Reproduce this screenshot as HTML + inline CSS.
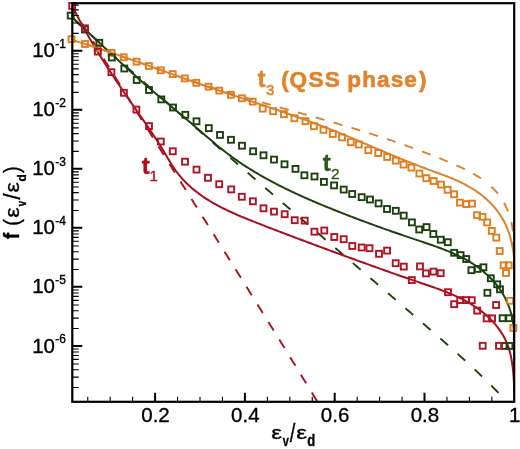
<!DOCTYPE html>
<html><head><meta charset="utf-8"><style>
html,body{margin:0;padding:0;background:#fff;width:520px;height:449px;overflow:hidden}
svg{display:block;filter:blur(0.35px)}
</style></head><body>
<svg width="520" height="449" viewBox="0 0 520 449">
<rect width="520" height="449" fill="#fff"/>
<defs><clipPath id="c"><rect x="72.3" y="3.2" width="441.9" height="398.6"/></clipPath></defs>
<g clip-path="url(#c)"><path d="M70.92,5.58 L71.72,6.88 L72.53,8.19 L73.33,9.50 L74.13,10.80 L74.93,12.11 L75.73,13.42 L76.54,14.72 L77.34,16.03 L78.14,17.33 L78.94,18.64 L79.75,19.94 L80.55,21.25 L81.35,22.55 L82.16,23.86 L82.96,25.16 L83.77,26.47 L84.57,27.77 L85.37,29.08 L86.18,30.38 L86.98,31.68 L87.79,32.99 L88.59,34.29 L89.40,35.60 L90.20,36.90 L91.01,38.20 L91.81,39.51 L92.62,40.81 L93.43,42.11 L94.23,43.42 L95.04,44.72 L95.84,46.02 L96.65,47.33 L97.46,48.63 L98.26,49.93 L99.07,51.23 L99.88,52.54 L100.69,53.84 L101.49,55.14 L102.30,56.44 L103.11,57.74 L103.92,59.05 L104.72,60.35 L105.53,61.65 L106.34,62.95 L107.15,64.25 L107.96,65.55 L108.76,66.85 L109.57,68.16 L110.38,69.46 L111.19,70.76 L112.00,72.06 L112.81,73.36 L113.62,74.66 L114.43,75.96 L115.24,77.26 L116.05,78.56 L116.86,79.86 L117.67,81.16 L118.48,82.46 L119.29,83.76 L120.10,85.06 L120.91,86.36 L121.72,87.66 L122.53,88.96 L123.34,90.26 L124.15,91.56 L124.96,92.86 L125.77,94.16 L126.58,95.46 L127.39,96.76 L128.20,98.06 L129.01,99.36 L129.82,100.66 L130.64,101.95 L131.45,103.25 L132.26,104.55 L133.07,105.85 L133.88,107.15 L134.69,108.45 L135.51,109.75 L136.32,111.05 L137.13,112.34 L137.94,113.64 L138.75,114.94 L139.57,116.24 L140.38,117.54 L141.19,118.84 L142.00,120.13 L142.82,121.43 L143.63,122.73 L144.44,124.03 L145.26,125.33 L146.07,126.62 L146.88,127.92 L147.69,129.22 L148.51,130.52 L149.32,131.81 L150.13,133.11 L150.95,134.41 L151.76,135.71 L152.57,137.00 L153.39,138.30 L154.20,139.60 L155.01,140.90 L155.83,142.19 L156.64,143.49 L157.45,144.79 L158.27,146.09 L159.08,147.38 L159.90,148.68 L160.71,149.98 L161.52,151.27 L162.34,152.57 L163.15,153.87 L163.96,155.17 L164.78,156.46 L165.59,157.76 L166.41,159.06 L167.22,160.35 L168.03,161.65 L168.85,162.95 L169.66,164.24 L170.48,165.54 L171.29,166.84 L172.11,168.14 L172.92,169.43 L173.73,170.73 L174.55,172.03 L175.36,173.32 L176.18,174.62 L176.99,175.92 L177.81,177.21 L178.62,178.51 L179.43,179.81 L180.25,181.10 L181.06,182.40 L181.88,183.70 L182.69,184.99 L183.51,186.29 L184.32,187.59 L185.13,188.88 L185.95,190.18 L186.76,191.48 L187.58,192.77 L188.39,194.07 L189.21,195.37 L190.02,196.66 L190.83,197.96 L191.65,199.26 L192.46,200.55 L193.28,201.85 L194.09,203.15 L194.91,204.44 L195.72,205.74 L196.53,207.04 L197.35,208.33 L198.16,209.63 L198.98,210.93 L199.79,212.22 L200.61,213.52 L201.42,214.82 L202.23,216.11 L203.05,217.41 L203.86,218.71 L204.68,220.00 L205.49,221.30 L206.30,222.60 L207.12,223.89 L207.93,225.19 L208.75,226.49 L209.56,227.79 L210.37,229.08 L211.19,230.38 L212.00,231.68 L212.81,232.97 L213.63,234.27 L214.44,235.57 L215.25,236.87 L216.07,238.16 L216.88,239.46 L217.69,240.76 L218.51,242.05 L219.32,243.35 L220.13,244.65 L220.95,245.95 L221.76,247.24 L222.57,248.54 L223.39,249.84 L224.20,251.14 L225.01,252.43 L225.82,253.73 L226.64,255.03 L227.45,256.33 L228.26,257.63 L229.07,258.92 L229.89,260.22 L230.70,261.52 L231.51,262.82 L232.32,264.12 L233.14,265.41 L233.95,266.71 L234.76,268.01 L235.57,269.31 L236.38,270.61 L237.19,271.91 L238.01,273.21 L238.82,274.50 L239.63,275.80 L240.44,277.10 L241.25,278.40 L242.06,279.70 L242.87,281.00 L243.68,282.30 L244.49,283.60 L245.31,284.90 L246.12,286.19 L246.93,287.49 L247.74,288.79 L248.55,290.09 L249.36,291.39 L250.17,292.69 L250.98,293.99 L251.79,295.29 L252.60,296.59 L253.41,297.89 L254.22,299.19 L255.03,300.49 L255.84,301.79 L256.64,303.09 L257.45,304.39 L258.26,305.69 L259.07,306.99 L259.88,308.29 L260.69,309.59 L261.50,310.90 L262.31,312.20 L263.11,313.50 L263.92,314.80 L264.73,316.10 L265.54,317.40 L266.35,318.70 L267.15,320.00 L267.96,321.31 L268.77,322.61 L269.57,323.91 L270.38,325.21 L271.19,326.51 L272.00,327.81 L272.80,329.12 L273.61,330.42 L274.41,331.72 L275.22,333.02 L276.03,334.33 L276.83,335.63 L277.64,336.93 L278.44,338.23 L279.25,339.54 L280.05,340.84 L280.86,342.14 L281.66,343.45 L282.47,344.75 L283.27,346.05 L284.08,347.36 L284.88,348.66 L285.69,349.97 L286.49,351.27 L287.29,352.57 L288.10,353.88 L288.90,355.18 L289.70,356.49 L290.51,357.79 L291.31,359.10 L292.11,360.40 L292.92,361.71 L293.72,363.01 L294.52,364.32 L295.32,365.62 L296.12,366.93 L296.93,368.23 L297.73,369.54 L298.53,370.85 L299.33,372.15 L300.13,373.46 L300.93,374.77 L301.73,376.07 L302.53,377.38 L303.33,378.69 L304.13,379.99 L304.93,381.30 L305.73,382.61 L306.53,383.91 L307.33,385.22 L308.13,386.53 L308.93,387.84 L309.73,389.15 L310.52,390.45 L311.32,391.76 L312.12,393.07 L312.92,394.38 L313.72,395.69 L314.51,397.00 L315.31,398.31 L316.11,399.61 L316.90,400.92 L317.70,402.23 L318.50,403.54 L319.29,404.85 L319.78,405.66" fill="none" stroke="#aa0f1e" stroke-width="1.9" stroke-linejoin="round" stroke-dasharray="10.00 10.70" stroke-dashoffset="20.34"/><path d="M67.70,13.82 L68.91,14.91 L70.11,16.01 L71.31,17.11 L72.52,18.20 L73.72,19.30 L74.93,20.39 L76.13,21.49 L77.33,22.58 L78.54,23.67 L79.75,24.77 L80.95,25.86 L82.16,26.95 L83.36,28.04 L84.57,29.14 L85.78,30.23 L86.98,31.32 L88.19,32.41 L89.40,33.50 L90.61,34.59 L91.82,35.68 L93.02,36.77 L94.23,37.86 L95.44,38.95 L96.65,40.04 L97.86,41.13 L99.07,42.22 L100.28,43.31 L101.49,44.39 L102.70,45.48 L103.91,46.57 L105.13,47.65 L106.34,48.74 L107.55,49.83 L108.76,50.91 L109.97,52.00 L111.19,53.09 L112.40,54.17 L113.61,55.26 L114.83,56.34 L116.04,57.43 L117.25,58.51 L118.47,59.59 L119.68,60.68 L120.90,61.76 L122.11,62.84 L123.33,63.93 L124.54,65.01 L125.76,66.09 L126.97,67.17 L128.19,68.26 L129.40,69.34 L130.62,70.42 L131.84,71.50 L133.05,72.58 L134.27,73.66 L135.49,74.74 L136.71,75.82 L137.92,76.90 L139.14,77.98 L140.36,79.06 L141.58,80.14 L142.80,81.22 L144.02,82.30 L145.24,83.37 L146.46,84.45 L147.68,85.53 L148.90,86.61 L150.11,87.69 L151.34,88.76 L152.56,89.84 L153.78,90.92 L155.00,91.99 L156.22,93.07 L157.44,94.14 L158.66,95.22 L159.88,96.30 L161.10,97.37 L162.33,98.45 L163.55,99.52 L164.77,100.60 L165.99,101.67 L167.22,102.74 L168.44,103.82 L169.66,104.89 L170.89,105.97 L172.11,107.04 L173.33,108.11 L174.56,109.19 L175.78,110.26 L177.00,111.33 L178.23,112.40 L179.45,113.48 L180.68,114.55 L181.90,115.62 L183.13,116.69 L184.35,117.76 L185.58,118.83 L186.80,119.90 L188.03,120.98 L189.26,122.05 L190.48,123.12 L191.71,124.19 L192.93,125.26 L194.16,126.33 L195.39,127.40 L196.61,128.47 L197.84,129.54 L199.07,130.60 L200.30,131.67 L201.52,132.74 L202.75,133.81 L203.98,134.88 L205.21,135.95 L206.43,137.02 L207.66,138.08 L208.89,139.15 L210.12,140.22 L211.35,141.29 L212.58,142.35 L213.81,143.42 L215.03,144.49 L216.26,145.56 L217.49,146.62 L218.72,147.69 L219.95,148.76 L221.18,149.82 L222.41,150.89 L223.64,151.95 L224.87,153.02 L226.10,154.08 L227.33,155.15 L228.56,156.22 L229.79,157.28 L231.02,158.35 L232.25,159.41 L233.48,160.48 L234.71,161.54 L235.94,162.60 L237.18,163.67 L238.41,164.73 L239.64,165.80 L240.87,166.86 L242.10,167.93 L243.33,168.99 L244.56,170.05 L245.80,171.12 L247.03,172.18 L248.26,173.24 L249.49,174.31 L250.72,175.37 L251.96,176.43 L253.19,177.49 L254.42,178.56 L255.65,179.62 L256.89,180.68 L258.12,181.74 L259.35,182.81 L260.58,183.87 L261.82,184.93 L263.05,185.99 L264.28,187.05 L265.52,188.12 L266.75,189.18 L267.98,190.24 L269.22,191.30 L270.45,192.36 L271.68,193.42 L272.92,194.48 L274.15,195.55 L275.38,196.61 L276.62,197.67 L277.85,198.73 L279.08,199.79 L280.32,200.85 L281.55,201.91 L282.79,202.97 L284.02,204.03 L285.25,205.09 L286.49,206.15 L287.72,207.21 L288.96,208.27 L290.19,209.33 L291.42,210.39 L292.66,211.45 L293.89,212.51 L295.13,213.57 L296.36,214.63 L297.60,215.69 L298.83,216.75 L300.07,217.81 L301.30,218.87 L302.53,219.93 L303.77,220.99 L305.00,222.04 L306.24,223.10 L307.47,224.16 L308.71,225.22 L309.94,226.28 L311.18,227.34 L312.41,228.40 L313.65,229.46 L314.88,230.52 L316.12,231.58 L317.35,232.63 L318.59,233.69 L319.82,234.75 L321.06,235.81 L322.29,236.87 L323.53,237.93 L324.76,238.99 L326.00,240.04 L327.23,241.10 L328.46,242.16 L329.70,243.22 L330.93,244.28 L332.17,245.34 L333.40,246.39 L334.64,247.45 L335.87,248.51 L337.11,249.57 L338.34,250.63 L339.58,251.68 L340.81,252.74 L342.05,253.80 L343.28,254.86 L344.52,255.92 L345.75,256.98 L346.99,258.03 L348.22,259.09 L349.46,260.15 L350.69,261.21 L351.92,262.27 L353.16,263.32 L354.39,264.38 L355.63,265.44 L356.86,266.50 L358.10,267.56 L359.33,268.61 L360.56,269.67 L361.80,270.73 L363.03,271.79 L364.27,272.85 L365.50,273.91 L366.73,274.97 L367.97,276.02 L369.20,277.08 L370.44,278.14 L371.67,279.20 L372.90,280.26 L374.14,281.32 L375.37,282.38 L376.60,283.44 L377.84,284.49 L379.07,285.55 L380.30,286.61 L381.54,287.67 L382.77,288.73 L384.00,289.79 L385.23,290.85 L386.47,291.91 L387.70,292.97 L388.93,294.03 L390.16,295.09 L391.40,296.15 L392.63,297.21 L393.86,298.27 L395.09,299.33 L396.32,300.39 L397.55,301.45 L398.79,302.51 L400.02,303.57 L401.25,304.64 L402.48,305.70 L403.71,306.76 L404.94,307.82 L406.17,308.88 L407.40,309.94 L408.63,311.00 L409.86,312.07 L411.09,313.13 L412.32,314.19 L413.55,315.25 L414.78,316.32 L416.01,317.38 L417.24,318.44 L418.47,319.51 L419.70,320.57 L420.93,321.63 L422.16,322.70 L423.39,323.76 L424.61,324.83 L425.84,325.89 L427.07,326.96 L428.30,328.02 L429.53,329.09 L430.75,330.15 L431.98,331.22 L433.21,332.28 L434.43,333.35 L435.66,334.42 L436.89,335.48 L438.11,336.55 L439.34,337.62 L440.56,338.69 L441.78,339.76 L443.01,340.83 L444.23,341.90 L445.45,342.97 L446.67,344.04 L447.89,345.12 L449.11,346.19 L450.33,347.27 L451.54,348.35 L452.76,349.42 L453.97,350.50 L455.18,351.59 L456.40,352.67 L457.61,353.75 L458.81,354.84 L460.02,355.93 L461.23,357.01 L462.43,358.11 L463.63,359.20 L464.83,360.29 L466.03,361.39 L467.23,362.49 L468.43,363.59 L469.62,364.69 L470.81,365.79 L472.00,366.90 L473.19,368.01 L474.37,369.12 L475.55,370.23 L476.74,371.34 L477.91,372.46 L479.09,373.58 L480.26,374.71 L481.43,375.83 L482.60,376.96 L483.77,378.09 L484.93,379.22 L486.09,380.36 L487.25,381.50 L488.41,382.64 L489.56,383.79 L490.71,384.94 L491.85,386.09 L493.00,387.24 L494.14,388.40 L495.27,389.56 L496.41,390.73 L497.54,391.89 L498.67,393.07 L499.79,394.24 L500.91,395.42 L502.03,396.60 L503.14,397.79 L504.25,398.98 L505.36,400.17 L506.46,401.37 L507.56,402.57 L508.66,403.78 L509.75,404.99 L510.34,405.65" fill="none" stroke="#1f4210" stroke-width="1.9" stroke-linejoin="round" stroke-dasharray="10.20 12.90" stroke-dashoffset="13.90"/><path d="M66.05,37.97 L67.54,38.44 L69.04,38.91 L70.54,39.38 L72.03,39.85 L73.53,40.33 L75.02,40.80 L76.51,41.28 L78.01,41.76 L79.50,42.24 L80.99,42.72 L82.48,43.21 L83.97,43.70 L85.46,44.18 L86.95,44.67 L88.43,45.16 L89.92,45.65 L91.41,46.15 L92.89,46.64 L94.38,47.14 L95.86,47.63 L97.35,48.13 L98.83,48.63 L100.32,49.13 L101.80,49.64 L103.28,50.14 L104.76,50.64 L106.25,51.15 L107.73,51.65 L109.21,52.16 L110.69,52.67 L112.17,53.18 L113.65,53.68 L115.13,54.19 L116.61,54.71 L118.09,55.22 L119.56,55.73 L121.04,56.24 L122.52,56.75 L124.00,57.27 L125.48,57.78 L126.95,58.30 L128.43,58.81 L129.91,59.33 L131.38,59.84 L132.86,60.36 L134.34,60.88 L135.81,61.39 L137.29,61.91 L138.77,62.43 L140.24,62.95 L141.72,63.46 L143.19,63.98 L144.67,64.50 L146.14,65.01 L147.62,65.53 L149.10,66.05 L150.57,66.57 L152.05,67.08 L153.52,67.60 L155.00,68.12 L156.48,68.63 L157.95,69.15 L159.43,69.66 L160.90,70.18 L162.38,70.69 L163.86,71.21 L165.33,71.72 L166.81,72.23 L168.29,72.75 L169.76,73.26 L171.24,73.77 L172.72,74.28 L174.20,74.79 L175.68,75.30 L177.15,75.80 L178.63,76.31 L180.11,76.82 L181.59,77.32 L183.07,77.83 L184.55,78.33 L186.03,78.83 L187.51,79.33 L188.99,79.83 L190.48,80.33 L191.96,80.83 L193.44,81.33 L194.92,81.82 L196.41,82.32 L197.89,82.81 L199.38,83.30 L200.86,83.79 L202.35,84.28 L203.83,84.77 L205.32,85.25 L206.81,85.73 L208.29,86.22 L209.78,86.70 L211.27,87.18 L212.76,87.65 L214.25,88.13 L215.74,88.60 L217.23,89.07 L218.73,89.54 L220.22,90.01 L221.71,90.48 L223.21,90.94 L224.70,91.40 L226.20,91.86 L227.70,92.32 L229.19,92.78 L230.69,93.23 L232.19,93.69 L233.69,94.14 L235.19,94.59 L236.69,95.04 L238.19,95.48 L239.69,95.93 L241.19,96.37 L242.69,96.82 L244.19,97.26 L245.70,97.70 L247.20,98.14 L248.70,98.58 L250.21,99.01 L251.71,99.45 L253.22,99.88 L254.72,100.32 L256.23,100.75 L257.73,101.18 L259.24,101.61 L260.75,102.04 L262.25,102.47 L263.76,102.90 L265.27,103.33 L266.78,103.75 L268.28,104.18 L269.79,104.60 L271.30,105.03 L272.81,105.45 L274.32,105.88 L275.82,106.30 L277.33,106.72 L278.84,107.14 L280.35,107.56 L281.86,107.99 L283.37,108.41 L284.88,108.83 L286.39,109.25 L287.89,109.67 L289.40,110.09 L290.91,110.51 L292.42,110.93 L293.93,111.35 L295.44,111.77 L296.95,112.19 L298.45,112.61 L299.96,113.03 L301.47,113.45 L302.98,113.87 L304.49,114.29 L305.99,114.71 L307.50,115.13 L309.01,115.55 L310.52,115.98 L312.02,116.40 L313.53,116.82 L315.03,117.25 L316.54,117.67 L318.05,118.09 L319.55,118.52 L321.05,118.95 L322.56,119.37 L324.06,119.80 L325.57,120.23 L327.07,120.66 L328.57,121.09 L330.07,121.52 L331.58,121.95 L333.08,122.38 L334.58,122.82 L336.08,123.25 L337.58,123.69 L339.08,124.12 L340.57,124.56 L342.07,125.00 L343.57,125.44 L345.07,125.89 L346.56,126.33 L348.06,126.77 L349.55,127.22 L351.05,127.67 L352.54,128.12 L354.03,128.57 L355.53,129.02 L357.02,129.47 L358.51,129.93 L360.00,130.38 L361.49,130.84 L362.98,131.30 L364.47,131.77 L365.96,132.23 L367.45,132.69 L368.93,133.16 L370.42,133.63 L371.91,134.10 L373.39,134.57 L374.88,135.05 L376.36,135.53 L377.85,136.01 L379.33,136.49 L380.81,136.97 L382.30,137.45 L383.78,137.94 L385.26,138.43 L386.74,138.92 L388.22,139.42 L389.71,139.91 L391.19,140.41 L392.66,140.91 L394.14,141.41 L395.62,141.92 L397.10,142.43 L398.58,142.94 L400.06,143.45 L401.53,143.97 L403.01,144.49 L404.49,145.01 L405.96,145.53 L407.44,146.06 L408.91,146.58 L410.39,147.12 L411.86,147.65 L413.33,148.19 L414.81,148.73 L416.28,149.27 L417.75,149.81 L419.23,150.36 L420.70,150.91 L422.17,151.47 L423.64,152.03 L425.11,152.59 L426.58,153.15 L428.05,153.72 L429.52,154.29 L430.99,154.86 L432.46,155.44 L433.93,156.01 L435.40,156.60 L436.86,157.18 L438.33,157.77 L439.80,158.37 L441.27,158.96 L442.73,159.56 L444.20,160.16 L445.67,160.77 L447.13,161.38 L448.60,162.00 L450.06,162.61 L451.53,163.24 L452.99,163.86 L454.45,164.50 L455.90,165.13 L457.35,165.78 L458.80,166.43 L460.24,167.09 L461.68,167.76 L463.10,168.44 L464.53,169.13 L465.94,169.83 L467.34,170.54 L468.74,171.26 L470.12,171.99 L471.49,172.73 L472.85,173.49 L474.20,174.26 L475.54,175.04 L476.86,175.84 L478.17,176.65 L479.47,177.48 L480.75,178.33 L482.01,179.19 L483.25,180.07 L484.48,180.96 L485.69,181.88" fill="none" stroke="#dc8230" stroke-width="1.9" stroke-linejoin="round" stroke-dasharray="9.20 9.40" stroke-dashoffset="16.94"/><path d="M485.69,181.88 L486.88,182.81 L488.05,183.76 L489.20,184.74 L490.33,185.73 L491.44,186.75 L492.52,187.78 L493.59,188.84 L494.71,190.02 L495.72,191.12 L496.71,192.25 L497.67,193.41 L498.61,194.59 L499.52,195.80 L500.40,197.03 L501.25,198.28 L502.08,199.56 L502.88,200.86 L503.65,202.18 L504.40,203.52 L505.11,204.89 L505.80,206.27 L506.46,207.67 L507.09,209.09 L507.69,210.53 L508.26,211.99 L508.80,213.47 L509.32,214.96 L509.80,216.46 L510.26,217.98 L510.68,219.52 L511.08,221.07 L511.44,222.63 L511.78,224.20 L512.08,225.79 L512.35,227.38 L512.59,228.99 L512.81,230.60 L512.99,232.23 L513.12,233.73 L513.24,235.23 L513.32,236.74 L513.38,238.25 L513.41,239.77 L513.41,241.30 L513.39,242.83 L513.34,244.36 L513.26,245.89 L513.15,247.43 L513.02,248.97 L512.86,250.51 L512.83,250.79" fill="none" stroke="#dc8230" stroke-width="1.9" stroke-linejoin="round" stroke-dasharray="9.50 11.00" stroke-dashoffset="12.96"/><path d="M71.89,5.04 L72.57,6.45 L73.26,7.86 L73.96,9.27 L74.66,10.68 L75.36,12.08 L76.07,13.48 L76.79,14.88 L77.51,16.28 L78.23,17.67 L78.96,19.06 L79.69,20.45 L80.43,21.84 L81.17,23.23 L81.92,24.61 L82.67,25.99 L83.42,27.37 L84.18,28.75 L84.95,30.12 L85.72,31.49 L86.49,32.86 L87.26,34.23 L88.04,35.60 L88.83,36.96 L89.61,38.32 L90.40,39.68 L91.20,41.04 L92.00,42.40 L92.80,43.75 L93.60,45.11 L94.41,46.46 L95.22,47.81 L96.04,49.15 L96.86,50.50 L97.68,51.84 L98.50,53.18 L99.33,54.52 L100.16,55.86 L101.00,57.20 L101.83,58.54 L102.67,59.87 L103.51,61.20 L104.36,62.53 L105.20,63.86 L106.05,65.19 L106.90,66.52 L107.76,67.84 L108.61,69.16 L109.47,70.48 L110.33,71.80 L111.20,73.12 L112.06,74.44 L112.93,75.76 L113.80,77.07 L114.67,78.39 L115.54,79.70 L116.41,81.01 L117.29,82.32 L118.17,83.63 L119.05,84.94 L119.93,86.24 L120.81,87.55 L121.69,88.85 L122.58,90.16 L123.46,91.46 L124.35,92.76 L125.24,94.06 L126.13,95.36 L127.02,96.66 L127.91,97.96 L128.80,99.25 L129.69,100.55 L130.58,101.84 L131.48,103.14 L132.37,104.43 L133.27,105.72 L134.16,107.01 L135.06,108.30 L135.95,109.59 L136.85,110.88 L137.75,112.17 L138.64,113.46 L139.54,114.75 L140.43,116.04 L141.33,117.33 L142.22,118.61 L143.12,119.90 L144.01,121.19 L144.90,122.48 L145.79,123.77 L146.67,125.07 L147.56,126.36 L148.44,127.65 L149.32,128.95 L150.20,130.25 L151.08,131.55 L151.95,132.85 L152.82,134.15 L153.69,135.46 L154.55,136.77 L155.41,138.08 L156.27,139.39 L157.12,140.71 L157.97,142.03 L158.81,143.36 L159.65,144.68 L160.48,146.01 L161.31,147.35 L162.14,148.69 L162.96,150.03 L163.77,151.38 L164.58,152.73 L165.38,154.08 L166.18,155.44 L166.98,156.80 L167.79,158.16 L168.59,159.52 L169.40,160.88 L170.22,162.23 L171.05,163.58 L171.89,164.92 L172.75,166.25 L173.62,167.57 L174.52,168.88 L175.43,170.19 L176.37,171.47 L177.33,172.74 L178.31,174.00 L179.31,175.24 L180.33,176.46 L181.37,177.67 L182.42,178.85 L183.49,180.01 L184.57,181.16 L185.67,182.28 L186.78,183.39 L187.90,184.47 L189.04,185.54 L190.19,186.59 L191.36,187.63 L192.54,188.64 L193.73,189.64 L194.94,190.63 L196.15,191.59 L197.38,192.55 L198.62,193.48 L199.87,194.40 L201.13,195.31 L202.41,196.20 L203.69,197.07 L204.98,197.94 L206.29,198.79 L207.60,199.62 L208.92,200.45 L210.26,201.26 L211.60,202.05 L212.95,202.84 L214.30,203.62 L215.67,204.38 L217.04,205.13 L218.42,205.87 L219.81,206.61 L221.21,207.33 L222.61,208.04 L224.02,208.74 L225.43,209.44 L226.85,210.12 L228.28,210.80 L229.71,211.47 L231.14,212.13 L232.58,212.78 L234.03,213.43 L235.47,214.07 L236.93,214.71 L238.38,215.33 L239.84,215.96 L241.30,216.57 L242.77,217.19 L244.24,217.79 L245.70,218.40 L247.18,219.00 L248.65,219.59 L250.12,220.18 L251.60,220.77 L253.07,221.36 L254.55,221.94 L256.03,222.53 L257.50,223.11 L258.98,223.69 L260.46,224.26 L261.93,224.84 L263.41,225.42 L264.88,225.99 L266.36,226.56 L267.83,227.14 L269.30,227.71 L270.78,228.28 L272.25,228.84 L273.72,229.41 L275.20,229.98 L276.67,230.54 L278.14,231.11 L279.61,231.67 L281.09,232.23 L282.56,232.79 L284.03,233.35 L285.50,233.91 L286.97,234.47 L288.44,235.03 L289.91,235.59 L291.38,236.14 L292.85,236.70 L294.33,237.25 L295.80,237.81 L297.27,238.36 L298.74,238.91 L300.21,239.46 L301.68,240.01 L303.15,240.56 L304.62,241.11 L306.09,241.66 L307.56,242.21 L309.03,242.76 L310.50,243.30 L311.97,243.85 L313.44,244.40 L314.91,244.94 L316.38,245.49 L317.85,246.03 L319.32,246.57 L320.80,247.12 L322.27,247.66 L323.74,248.21 L325.21,248.75 L326.68,249.29 L328.15,249.83 L329.63,250.37 L331.10,250.92 L332.57,251.46 L334.05,252.00 L335.52,252.54 L336.99,253.08 L338.47,253.62 L339.94,254.16 L341.42,254.70 L342.89,255.24 L344.37,255.78 L345.84,256.32 L347.32,256.86 L348.79,257.40 L350.27,257.94 L351.75,258.48 L353.22,259.01 L354.70,259.55 L356.18,260.09 L357.66,260.63 L359.14,261.16 L360.62,261.70 L362.10,262.24 L363.58,262.77 L365.06,263.31 L366.54,263.84 L368.02,264.38 L369.50,264.91 L370.98,265.44 L372.46,265.98 L373.94,266.51 L375.43,267.04 L376.91,267.57 L378.39,268.10 L379.88,268.63 L381.36,269.16 L382.85,269.69 L384.33,270.22 L385.82,270.75 L387.30,271.28 L388.79,271.80 L390.28,272.33 L391.77,272.85 L393.25,273.38 L394.74,273.90 L396.23,274.42 L397.72,274.95 L399.21,275.47 L400.70,275.99 L402.19,276.51 L403.68,277.03 L405.18,277.54 L406.67,278.06 L408.16,278.58 L409.65,279.09 L411.15,279.61 L412.64,280.12 L414.14,280.64 L415.63,281.15 L417.13,281.66 L418.62,282.17 L420.12,282.68 L421.62,283.19 L423.12,283.69 L424.61,284.20 L426.11,284.72 L427.60,285.23 L429.10,285.74 L430.59,286.26 L432.08,286.78 L433.57,287.30 L435.06,287.83 L436.54,288.36 L438.03,288.90 L439.51,289.45 L440.98,290.00 L442.45,290.56 L443.92,291.12 L445.39,291.69 L446.85,292.28 L448.30,292.87 L449.76,293.47 L451.20,294.07 L452.64,294.70 L454.08,295.33 L455.51,295.97 L456.93,296.62 L458.34,297.29 L459.75,297.97 L461.16,298.67 L462.55,299.38 L463.94,300.10 L465.32,300.84 L466.69,301.59 L468.06,302.36 L469.41,303.15 L470.76,303.95 L472.10,304.78 L473.42,305.62 L474.74,306.48 L476.05,307.35 L477.35,308.25 L478.63,309.17 L479.90,310.10 L481.16,311.05 L482.41,312.02 L483.63,313.01 L484.85,314.02 L486.04,315.05 L487.22,316.10 L488.38,317.16 L489.52,318.24 L490.64,319.34 L491.74,320.46 L492.82,321.60 L493.88,322.76 L494.91,323.93 L495.92,325.12 L496.91,326.33 L497.87,327.56 L498.80,328.81 L499.71,330.08 L500.59,331.36 L501.44,332.66 L502.26,333.98 L503.06,335.32 L503.82,336.68 L504.55,338.05 L505.25,339.45 L505.91,340.86 L506.54,342.29 L507.14,343.73 L507.70,345.20 L508.23,346.68 L508.73,348.17 L509.20,349.68 L509.63,351.20 L510.04,352.74 L510.43,354.28 L510.78,355.84 L511.11,357.41 L511.42,358.98 L511.70,360.56 L511.97,362.14 L512.21,363.74 L512.43,365.33 L512.64,366.93 L512.83,368.53 L513.00,370.13 L513.16,371.73 L513.31,373.33 L513.44,374.92 L513.56,376.52 L513.67,378.11 L513.77,379.69 L513.87,381.27 L513.96,382.84 L514.04,384.40 L514.12,385.95 L514.19,387.49 L514.27,389.02 L514.34,390.54 L514.41,392.05 L514.50,393.68 L514.56,394.86" fill="none" stroke="#aa0f1e" stroke-width="2.0" stroke-linejoin="round"/><path d="M68.07,13.41 L69.22,14.48 L70.38,15.56 L71.53,16.64 L72.68,17.71 L73.84,18.79 L74.99,19.87 L76.14,20.95 L77.29,22.03 L78.44,23.11 L79.59,24.19 L80.74,25.27 L81.89,26.35 L83.04,27.43 L84.19,28.51 L85.34,29.59 L86.48,30.67 L87.63,31.75 L88.78,32.83 L89.93,33.91 L91.08,34.99 L92.23,36.08 L93.38,37.16 L94.53,38.24 L95.68,39.32 L96.83,40.40 L97.98,41.47 L99.13,42.55 L100.28,43.63 L101.43,44.71 L102.58,45.79 L103.73,46.87 L104.88,47.94 L106.03,49.02 L107.19,50.09 L108.34,51.17 L109.50,52.24 L110.65,53.32 L111.81,54.39 L112.96,55.46 L114.12,56.53 L115.28,57.60 L116.44,58.67 L117.60,59.74 L118.76,60.81 L119.92,61.87 L121.08,62.94 L122.24,64.00 L123.41,65.06 L124.57,66.13 L125.74,67.19 L126.90,68.25 L128.07,69.30 L129.24,70.36 L130.41,71.41 L131.59,72.47 L132.76,73.52 L133.93,74.57 L135.11,75.62 L136.29,76.67 L137.47,77.71 L138.65,78.76 L139.83,79.80 L141.01,80.84 L142.20,81.88 L143.38,82.92 L144.57,83.95 L145.76,84.98 L146.95,86.01 L148.14,87.04 L149.34,88.07 L150.54,89.10 L151.73,90.12 L152.93,91.14 L154.13,92.16 L155.34,93.18 L156.54,94.20 L157.74,95.22 L158.95,96.23 L160.15,97.25 L161.36,98.26 L162.57,99.28 L163.78,100.29 L164.99,101.30 L166.20,102.31 L167.41,103.32 L168.62,104.33 L169.83,105.34 L171.04,106.35 L172.25,107.36 L173.47,108.37 L174.68,109.38 L175.89,110.39 L177.10,111.40 L178.31,112.42 L179.53,113.43 L180.74,114.44 L181.95,115.45 L183.16,116.47 L184.37,117.48 L185.58,118.50 L186.78,119.52 L187.99,120.53 L189.20,121.55 L190.40,122.57 L191.61,123.60 L192.81,124.62 L194.01,125.65 L195.22,126.67 L196.42,127.70 L197.61,128.74 L198.81,129.77 L200.01,130.80 L201.21,131.83 L202.40,132.87 L203.60,133.90 L204.80,134.94 L205.99,135.97 L207.19,137.00 L208.39,138.03 L209.60,139.05 L210.80,140.08 L212.00,141.10 L213.21,142.12 L214.42,143.13 L215.63,144.15 L216.85,145.15 L218.07,146.15 L219.29,147.15 L220.52,148.14 L221.75,149.13 L222.98,150.11 L224.22,151.08 L225.46,152.05 L226.71,153.01 L227.97,153.96 L229.23,154.91 L230.49,155.84 L231.76,156.77 L233.03,157.70 L234.31,158.61 L235.60,159.52 L236.89,160.42 L238.18,161.32 L239.48,162.21 L240.78,163.09 L242.09,163.96 L243.40,164.83 L244.72,165.69 L246.04,166.54 L247.36,167.39 L248.69,168.23 L250.03,169.07 L251.36,169.90 L252.70,170.72 L254.05,171.54 L255.40,172.35 L256.75,173.15 L258.11,173.95 L259.47,174.74 L260.83,175.53 L262.20,176.31 L263.57,177.09 L264.95,177.86 L266.32,178.63 L267.71,179.38 L269.09,180.14 L270.48,180.89 L271.87,181.63 L273.26,182.37 L274.66,183.10 L276.06,183.83 L277.46,184.56 L278.86,185.28 L280.27,185.99 L281.68,186.70 L283.10,187.40 L284.51,188.10 L285.93,188.80 L287.35,189.49 L288.77,190.18 L290.19,190.86 L291.62,191.54 L293.05,192.22 L294.48,192.89 L295.91,193.55 L297.35,194.21 L298.78,194.87 L300.22,195.53 L301.66,196.18 L303.10,196.83 L304.55,197.47 L305.99,198.11 L307.44,198.75 L308.88,199.38 L310.33,200.01 L311.78,200.64 L313.23,201.26 L314.68,201.89 L316.14,202.50 L317.59,203.12 L319.05,203.73 L320.50,204.34 L321.96,204.95 L323.42,205.55 L324.87,206.15 L326.33,206.75 L327.79,207.35 L329.25,207.94 L330.71,208.53 L332.17,209.12 L333.63,209.71 L335.09,210.30 L336.55,210.88 L338.01,211.46 L339.47,212.04 L340.93,212.62 L342.40,213.19 L343.86,213.76 L345.32,214.34 L346.79,214.90 L348.25,215.47 L349.71,216.04 L351.18,216.60 L352.65,217.16 L354.11,217.72 L355.58,218.28 L357.05,218.84 L358.51,219.39 L359.98,219.94 L361.45,220.49 L362.92,221.04 L364.39,221.59 L365.87,222.14 L367.34,222.68 L368.81,223.22 L370.29,223.76 L371.76,224.30 L373.24,224.84 L374.72,225.38 L376.19,225.91 L377.67,226.45 L379.15,226.98 L380.63,227.51 L382.12,228.04 L383.60,228.57 L385.08,229.09 L386.57,229.62 L388.05,230.14 L389.54,230.67 L391.03,231.19 L392.52,231.71 L394.01,232.23 L395.50,232.75 L396.99,233.27 L398.49,233.78 L399.99,234.30 L401.48,234.81 L402.98,235.33 L404.48,235.84 L405.98,236.35 L407.48,236.86 L408.99,237.37 L410.49,237.88 L412.00,238.39 L413.51,238.89 L415.02,239.40 L416.53,239.91 L418.04,240.41 L419.56,240.92 L421.07,241.42 L422.58,241.93 L424.10,242.44 L425.61,242.95 L427.13,243.46 L428.64,243.98 L430.15,244.50 L431.66,245.02 L433.16,245.55 L434.67,246.08 L436.17,246.62 L437.67,247.16 L439.16,247.71 L440.66,248.27 L442.14,248.83 L443.63,249.40 L445.11,249.98 L446.58,250.57 L448.05,251.17 L449.51,251.77 L450.97,252.39 L452.42,253.02 L453.86,253.66 L455.30,254.31 L456.73,254.97 L458.15,255.64 L459.56,256.33 L460.97,257.03 L462.37,257.74 L463.75,258.47 L465.13,259.21 L466.50,259.97 L467.86,260.74 L469.21,261.53 L470.55,262.34 L471.88,263.16 L473.19,264.00 L474.50,264.86 L475.79,265.74 L477.07,266.64 L478.34,267.55 L479.59,268.48 L480.83,269.43 L482.06,270.40 L483.27,271.39 L484.46,272.39 L485.64,273.41 L486.80,274.46 L487.94,275.52 L489.07,276.59 L490.17,277.69 L491.26,278.80 L492.33,279.93 L493.38,281.08 L494.40,282.25 L495.41,283.43 L496.39,284.64 L497.35,285.86 L498.29,287.10 L499.21,288.35 L500.10,289.63 L500.97,290.92 L501.81,292.23 L502.62,293.56 L503.42,294.90 L504.18,296.27 L504.92,297.64 L505.63,299.04 L506.31,300.45 L506.97,301.88 L507.60,303.32 L508.20,304.77 L508.77,306.24 L509.31,307.72 L509.83,309.22 L510.31,310.73 L510.77,312.25 L511.20,313.78 L511.60,315.32 L511.96,316.88 L512.30,318.44 L512.61,320.02 L512.88,321.60 L513.13,323.20 L513.34,324.80 L513.52,326.41 L513.67,328.03 L513.79,329.65 L513.88,331.29 L513.93,332.92 L513.95,334.57 L513.94,336.07 L513.90,337.58 L513.83,339.08 L513.74,340.45" fill="none" stroke="#1f4210" stroke-width="2.0" stroke-linejoin="round"/><path d="M66.00,38.16 L67.45,38.59 L68.91,39.02 L70.36,39.45 L71.81,39.89 L73.26,40.32 L74.71,40.76 L76.16,41.21 L77.60,41.65 L79.05,42.10 L80.50,42.55 L81.94,43.00 L83.39,43.45 L84.83,43.91 L86.27,44.36 L87.72,44.82 L89.16,45.29 L90.60,45.75 L92.04,46.21 L93.48,46.68 L94.92,47.15 L96.36,47.62 L97.79,48.09 L99.23,48.57 L100.67,49.04 L102.10,49.52 L103.54,50.00 L104.97,50.48 L106.41,50.96 L107.84,51.44 L109.28,51.93 L110.71,52.41 L112.14,52.90 L113.57,53.39 L115.00,53.88 L116.43,54.37 L117.86,54.86 L119.29,55.36 L120.72,55.85 L122.15,56.35 L123.58,56.85 L125.01,57.34 L126.44,57.84 L127.87,58.34 L129.29,58.84 L130.72,59.35 L132.15,59.85 L133.57,60.35 L135.00,60.86 L136.43,61.36 L137.85,61.87 L139.28,62.37 L140.70,62.88 L142.13,63.39 L143.55,63.89 L144.98,64.40 L146.40,64.91 L147.83,65.42 L149.25,65.93 L150.67,66.44 L152.10,66.95 L153.52,67.46 L154.95,67.97 L156.37,68.49 L157.79,69.00 L159.22,69.51 L160.64,70.02 L162.06,70.53 L163.49,71.04 L164.91,71.55 L166.33,72.07 L167.76,72.58 L169.18,73.09 L170.61,73.60 L172.03,74.11 L173.45,74.62 L174.88,75.13 L176.30,75.64 L177.73,76.15 L179.15,76.66 L180.58,77.17 L182.00,77.68 L183.43,78.19 L184.85,78.69 L186.28,79.20 L187.70,79.71 L189.13,80.21 L190.56,80.72 L191.98,81.22 L193.41,81.73 L194.84,82.23 L196.26,82.73 L197.69,83.23 L199.12,83.73 L200.55,84.23 L201.98,84.73 L203.41,85.23 L204.84,85.72 L206.27,86.22 L207.70,86.71 L209.13,87.20 L210.56,87.69 L211.99,88.18 L213.42,88.67 L214.86,89.16 L216.29,89.65 L217.72,90.13 L219.16,90.62 L220.59,91.10 L222.02,91.59 L223.46,92.07 L224.89,92.55 L226.33,93.04 L227.76,93.52 L229.20,94.00 L230.63,94.48 L232.07,94.96 L233.51,95.43 L234.94,95.91 L236.38,96.39 L237.82,96.87 L239.25,97.35 L240.69,97.82 L242.13,98.30 L243.56,98.78 L245.00,99.25 L246.44,99.73 L247.87,100.21 L249.31,100.68 L250.75,101.16 L252.18,101.64 L253.62,102.12 L255.06,102.59 L256.49,103.07 L257.93,103.55 L259.37,104.03 L260.80,104.51 L262.24,104.99 L263.67,105.47 L265.11,105.95 L266.54,106.43 L267.98,106.91 L269.41,107.39 L270.85,107.87 L272.28,108.36 L273.72,108.84 L275.15,109.33 L276.58,109.81 L278.02,110.30 L279.45,110.79 L280.88,111.28 L282.31,111.77 L283.74,112.26 L285.17,112.75 L286.60,113.25 L288.03,113.74 L289.46,114.24 L290.89,114.74 L292.32,115.23 L293.75,115.73 L295.18,116.24 L296.60,116.74 L298.03,117.25 L299.45,117.75 L300.88,118.26 L302.30,118.77 L303.73,119.28 L305.15,119.80 L306.57,120.31 L307.99,120.83 L309.41,121.35 L310.83,121.87 L312.25,122.39 L313.67,122.92 L315.09,123.45 L316.50,123.98 L317.92,124.51 L319.34,125.04 L320.75,125.58 L322.16,126.12 L323.58,126.66 L324.99,127.20 L326.40,127.75 L327.81,128.30 L329.22,128.85 L330.62,129.40 L332.03,129.96 L333.44,130.52 L334.84,131.08 L336.24,131.64 L337.65,132.21 L339.05,132.78 L340.45,133.35 L341.85,133.92 L343.25,134.50 L344.65,135.08 L346.04,135.66 L347.44,136.24 L348.84,136.82 L350.23,137.40 L351.63,137.99 L353.02,138.58 L354.42,139.16 L355.81,139.75 L357.20,140.34 L358.59,140.93 L359.99,141.53 L361.38,142.12 L362.77,142.71 L364.16,143.31 L365.55,143.90 L366.94,144.50 L368.33,145.09 L369.72,145.69 L371.11,146.28 L372.50,146.87 L373.88,147.47 L375.27,148.06 L376.66,148.66 L378.05,149.25 L379.44,149.84 L380.83,150.44 L382.22,151.03 L383.61,151.62 L385.00,152.21 L386.39,152.79 L387.77,153.38 L389.16,153.97 L390.55,154.55 L391.94,155.13 L393.34,155.71 L394.73,156.29 L396.12,156.87 L397.51,157.45 L398.91,158.02 L400.30,158.60 L401.70,159.17 L403.09,159.74 L404.49,160.30 L405.89,160.87 L407.29,161.43 L408.69,161.99 L410.10,162.55 L411.50,163.11 L412.91,163.66 L414.32,164.22 L415.73,164.77 L417.14,165.31 L418.56,165.86 L419.97,166.40 L421.39,166.94 L422.82,167.48 L424.24,168.01 L425.67,168.54 L427.10,169.07 L428.53,169.60 L429.96,170.12 L431.40,170.65 L432.84,171.17 L434.27,171.69 L435.71,172.21 L437.15,172.74 L438.59,173.26 L440.02,173.79 L441.46,174.33 L442.89,174.86 L444.32,175.40 L445.75,175.95 L447.18,176.50 L448.60,177.06 L450.01,177.63 L451.43,178.21 L452.83,178.79 L454.24,179.38 L455.63,179.99 L457.02,180.60 L458.41,181.23 L459.78,181.87 L461.15,182.52 L462.51,183.19 L463.86,183.87 L465.20,184.57 L466.53,185.28 L467.86,186.00 L469.17,186.75 L470.47,187.51 L471.76,188.29 L473.04,189.09 L474.30,189.90 L475.56,190.73 L476.80,191.58 L478.02,192.45 L479.24,193.33 L480.54,194.31 L481.83,195.32 L483.10,196.34 L484.35,197.38 L485.59,198.45 L486.80,199.53 L487.99,200.64 L489.16,201.76 L490.31,202.91 L491.43,204.07 L492.54,205.26 L493.62,206.46 L494.67,207.69 L495.71,208.93 L496.71,210.20 L497.69,211.48 L498.65,212.78 L499.57,214.11 L500.47,215.45 L501.34,216.82 L502.19,218.20 L503.00,219.60 L503.78,221.02 L504.54,222.46 L505.26,223.93 L505.95,225.41 L506.56,226.78 L507.14,228.16 L507.70,229.56 L508.23,230.98 L508.74,232.40 L509.23,233.84 L509.69,235.29 L510.13,236.75 L510.55,238.22 L510.94,239.70 L511.31,241.19 L511.67,242.69 L512.00,244.19 L512.30,245.70 L512.59,247.22 L512.86,248.75 L513.11,250.28 L513.34,251.81 L513.55,253.35 L513.74,254.89 L513.91,256.43 L514.07,257.97 L514.20,259.52 L514.32,261.07 L514.42,262.61 L514.51,264.16 L514.58,265.71 L514.63,267.25 L514.67,268.79 L514.69,270.33 L514.69,271.87 L514.68,273.40 L514.66,274.92 L514.62,276.44 L514.57,277.96 L514.51,279.47 L514.43,280.97 L514.33,282.59 L514.22,284.21 L514.09,285.82 L513.95,287.41 L513.79,288.99 L513.68,290.04" fill="none" stroke="#dc8230" stroke-width="2.0" stroke-linejoin="round"/></g>
<g fill="none" stroke="#e07d1e" stroke-width="1.9"><rect x="68.55" y="36.25" width="5.9" height="5.9"/><rect x="82.05" y="41.05" width="5.9" height="5.9"/><rect x="94.55" y="45.25" width="5.9" height="5.9"/><rect x="108.65" y="49.95" width="5.9" height="5.9"/><rect x="120.80" y="54.35" width="5.9" height="5.9"/><rect x="133.65" y="58.65" width="5.9" height="5.9"/><rect x="145.95" y="63.05" width="5.9" height="5.9"/><rect x="157.85" y="67.35" width="5.9" height="5.9"/><rect x="169.75" y="71.15" width="5.9" height="5.9"/><rect x="181.85" y="75.45" width="5.9" height="5.9"/><rect x="193.35" y="79.85" width="5.9" height="5.9"/><rect x="205.55" y="83.75" width="5.9" height="5.9"/><rect x="216.35" y="87.65" width="5.9" height="5.9"/><rect x="227.95" y="91.85" width="5.9" height="5.9"/><rect x="238.95" y="95.35" width="5.9" height="5.9"/><rect x="249.75" y="98.65" width="5.9" height="5.9"/><rect x="259.75" y="105.65" width="5.9" height="5.9"/><rect x="270.15" y="108.25" width="5.9" height="5.9"/><rect x="280.95" y="111.25" width="5.9" height="5.9"/><rect x="291.45" y="115.35" width="5.9" height="5.9"/><rect x="302.55" y="118.25" width="5.9" height="5.9"/><rect x="310.95" y="123.25" width="5.9" height="5.9"/><rect x="320.55" y="126.85" width="5.9" height="5.9"/><rect x="329.85" y="131.05" width="5.9" height="5.9"/><rect x="339.05" y="134.45" width="5.9" height="5.9"/><rect x="347.85" y="139.25" width="5.9" height="5.9"/><rect x="355.85" y="141.55" width="5.9" height="5.9"/><rect x="365.35" y="147.25" width="5.9" height="5.9"/><rect x="375.25" y="150.05" width="5.9" height="5.9"/><rect x="384.25" y="154.05" width="5.9" height="5.9"/><rect x="392.85" y="157.65" width="5.9" height="5.9"/><rect x="400.65" y="161.65" width="5.9" height="5.9"/><rect x="408.45" y="164.65" width="5.9" height="5.9"/><rect x="416.45" y="170.55" width="5.9" height="5.9"/><rect x="423.35" y="175.25" width="5.9" height="5.9"/><rect x="430.65" y="178.05" width="5.9" height="5.9"/><rect x="438.05" y="181.65" width="5.9" height="5.9"/><rect x="444.65" y="186.85" width="5.9" height="5.9"/><rect x="451.15" y="191.35" width="5.9" height="5.9"/><rect x="456.95" y="199.65" width="5.9" height="5.9"/><rect x="463.35" y="201.15" width="5.9" height="5.9"/><rect x="469.05" y="200.65" width="5.9" height="5.9"/><rect x="474.05" y="212.25" width="5.9" height="5.9"/><rect x="479.55" y="213.85" width="5.9" height="5.9"/><rect x="484.25" y="219.45" width="5.9" height="5.9"/><rect x="488.85" y="227.95" width="5.9" height="5.9"/><rect x="493.35" y="234.65" width="5.9" height="5.9"/><rect x="496.75" y="248.05" width="5.9" height="5.9"/><rect x="500.65" y="262.35" width="5.9" height="5.9"/><rect x="505.75" y="262.35" width="5.9" height="5.9"/><rect x="503.05" y="270.05" width="5.9" height="5.9"/><rect x="507.15" y="297.85" width="5.9" height="5.9"/><rect x="510.45" y="325.05" width="5.9" height="5.9"/></g>
<g fill="none" stroke="#1c400f" stroke-width="1.9"><rect x="67.75" y="12.65" width="5.9" height="5.9"/><rect x="82.05" y="26.55" width="5.9" height="5.9"/><rect x="96.35" y="39.85" width="5.9" height="5.9"/><rect x="108.85" y="54.55" width="5.9" height="5.9"/><rect x="121.35" y="65.55" width="5.9" height="5.9"/><rect x="133.75" y="77.05" width="5.9" height="5.9"/><rect x="146.05" y="87.05" width="5.9" height="5.9"/><rect x="158.35" y="96.45" width="5.9" height="5.9"/><rect x="170.05" y="104.55" width="5.9" height="5.9"/><rect x="182.35" y="111.85" width="5.9" height="5.9"/><rect x="193.55" y="118.35" width="5.9" height="5.9"/><rect x="205.85" y="125.15" width="5.9" height="5.9"/><rect x="217.05" y="131.95" width="5.9" height="5.9"/><rect x="228.05" y="136.85" width="5.9" height="5.9"/><rect x="239.05" y="142.75" width="5.9" height="5.9"/><rect x="250.15" y="148.35" width="5.9" height="5.9"/><rect x="260.55" y="152.35" width="5.9" height="5.9"/><rect x="271.05" y="156.65" width="5.9" height="5.9"/><rect x="281.55" y="161.35" width="5.9" height="5.9"/><rect x="292.55" y="165.95" width="5.9" height="5.9"/><rect x="301.45" y="172.35" width="5.9" height="5.9"/><rect x="311.55" y="173.55" width="5.9" height="5.9"/><rect x="320.95" y="178.95" width="5.9" height="5.9"/><rect x="331.15" y="182.45" width="5.9" height="5.9"/><rect x="340.75" y="186.65" width="5.9" height="5.9"/><rect x="349.25" y="191.05" width="5.9" height="5.9"/><rect x="358.75" y="194.25" width="5.9" height="5.9"/><rect x="367.05" y="196.55" width="5.9" height="5.9"/><rect x="375.65" y="200.45" width="5.9" height="5.9"/><rect x="384.05" y="206.05" width="5.9" height="5.9"/><rect x="392.85" y="207.85" width="5.9" height="5.9"/><rect x="400.75" y="212.65" width="5.9" height="5.9"/><rect x="408.95" y="219.45" width="5.9" height="5.9"/><rect x="416.25" y="226.55" width="5.9" height="5.9"/><rect x="423.55" y="224.15" width="5.9" height="5.9"/><rect x="430.35" y="231.05" width="5.9" height="5.9"/><rect x="437.85" y="236.75" width="5.9" height="5.9"/><rect x="444.85" y="239.25" width="5.9" height="5.9"/><rect x="451.25" y="249.85" width="5.9" height="5.9"/><rect x="457.65" y="252.15" width="5.9" height="5.9"/><rect x="463.25" y="256.05" width="5.9" height="5.9"/><rect x="468.45" y="267.25" width="5.9" height="5.9"/><rect x="474.75" y="265.95" width="5.9" height="5.9"/><rect x="480.45" y="264.35" width="5.9" height="5.9"/><rect x="484.45" y="289.85" width="5.9" height="5.9"/><rect x="487.85" y="275.35" width="5.9" height="5.9"/><rect x="494.25" y="281.35" width="5.9" height="5.9"/><rect x="497.05" y="286.35" width="5.9" height="5.9"/><rect x="499.65" y="315.25" width="5.9" height="5.9"/><rect x="506.25" y="315.25" width="5.9" height="5.9"/><rect x="501.25" y="342.95" width="5.9" height="5.9"/><rect x="506.55" y="342.95" width="5.9" height="5.9"/></g>
<g fill="none" stroke="#b21323" stroke-width="1.9"><rect x="69.25" y="2.95" width="5.9" height="5.9"/><rect x="82.05" y="25.35" width="5.9" height="5.9"/><rect x="94.95" y="48.65" width="5.9" height="5.9"/><rect x="108.45" y="69.25" width="5.9" height="5.9"/><rect x="120.95" y="89.85" width="5.9" height="5.9"/><rect x="133.45" y="106.65" width="5.9" height="5.9"/><rect x="146.05" y="123.15" width="5.9" height="5.9"/><rect x="157.85" y="138.55" width="5.9" height="5.9"/><rect x="169.85" y="148.35" width="5.9" height="5.9"/><rect x="182.05" y="158.75" width="5.9" height="5.9"/><rect x="193.55" y="166.65" width="5.9" height="5.9"/><rect x="205.05" y="174.85" width="5.9" height="5.9"/><rect x="216.25" y="181.25" width="5.9" height="5.9"/><rect x="228.25" y="186.45" width="5.9" height="5.9"/><rect x="238.85" y="193.85" width="5.9" height="5.9"/><rect x="249.95" y="198.35" width="5.9" height="5.9"/><rect x="260.55" y="205.35" width="5.9" height="5.9"/><rect x="271.05" y="208.65" width="5.9" height="5.9"/><rect x="281.75" y="211.25" width="5.9" height="5.9"/><rect x="291.75" y="217.25" width="5.9" height="5.9"/><rect x="301.75" y="217.65" width="5.9" height="5.9"/><rect x="311.45" y="228.75" width="5.9" height="5.9"/><rect x="321.35" y="227.55" width="5.9" height="5.9"/><rect x="331.35" y="234.05" width="5.9" height="5.9"/><rect x="340.75" y="236.25" width="5.9" height="5.9"/><rect x="349.35" y="243.05" width="5.9" height="5.9"/><rect x="358.75" y="244.55" width="5.9" height="5.9"/><rect x="366.55" y="245.25" width="5.9" height="5.9"/><rect x="376.05" y="250.85" width="5.9" height="5.9"/><rect x="384.15" y="247.65" width="5.9" height="5.9"/><rect x="392.75" y="260.25" width="5.9" height="5.9"/><rect x="400.85" y="263.65" width="5.9" height="5.9"/><rect x="408.85" y="277.15" width="5.9" height="5.9"/><rect x="417.05" y="263.45" width="5.9" height="5.9"/><rect x="423.05" y="270.45" width="5.9" height="5.9"/><rect x="430.55" y="268.65" width="5.9" height="5.9"/><rect x="437.75" y="270.25" width="5.9" height="5.9"/><rect x="445.05" y="289.25" width="5.9" height="5.9"/><rect x="451.25" y="301.25" width="5.9" height="5.9"/><rect x="457.25" y="297.15" width="5.9" height="5.9"/><rect x="463.25" y="297.15" width="5.9" height="5.9"/><rect x="468.85" y="297.25" width="5.9" height="5.9"/><rect x="474.25" y="307.65" width="5.9" height="5.9"/><rect x="483.75" y="315.45" width="5.9" height="5.9"/><rect x="489.15" y="315.45" width="5.9" height="5.9"/><rect x="493.15" y="302.05" width="5.9" height="5.9"/><rect x="479.75" y="342.85" width="5.9" height="5.9"/><rect x="496.05" y="342.85" width="5.9" height="5.9"/></g>
<path d="M87.75,401.80V396.80M110.20,401.80V396.80M132.65,401.80V396.80M177.55,401.80V396.80M200.00,401.80V396.80M222.45,401.80V396.80M267.35,401.80V396.80M289.80,401.80V396.80M312.25,401.80V396.80M357.15,401.80V396.80M379.60,401.80V396.80M402.05,401.80V396.80M446.95,401.80V396.80M469.40,401.80V396.80M491.85,401.80V396.80M72.30,387.57H78.80M72.30,377.17H78.80M72.30,369.79H78.80M72.30,364.07H78.80M72.30,359.40H78.80M72.30,355.45H78.80M72.30,352.02H78.80M72.30,349.00H78.80M72.30,328.53H78.80M72.30,318.13H78.80M72.30,310.75H78.80M72.30,305.03H78.80M72.30,300.36H78.80M72.30,296.41H78.80M72.30,292.98H78.80M72.30,289.96H78.80M72.30,269.49H78.80M72.30,259.09H78.80M72.30,251.71H78.80M72.30,245.99H78.80M72.30,241.32H78.80M72.30,237.37H78.80M72.30,233.94H78.80M72.30,230.92H78.80M72.30,210.45H78.80M72.30,200.05H78.80M72.30,192.67H78.80M72.30,186.95H78.80M72.30,182.28H78.80M72.30,178.33H78.80M72.30,174.90H78.80M72.30,171.88H78.80M72.30,151.41H78.80M72.30,141.01H78.80M72.30,133.63H78.80M72.30,127.91H78.80M72.30,123.24H78.80M72.30,119.29H78.80M72.30,115.86H78.80M72.30,112.84H78.80M72.30,92.37H78.80M72.30,81.97H78.80M72.30,74.59H78.80M72.30,68.87H78.80M72.30,64.20H78.80M72.30,60.25H78.80M72.30,56.82H78.80M72.30,53.80H78.80M72.30,33.33H78.80M72.30,22.93H78.80M72.30,15.55H78.80M72.30,9.83H78.80M72.30,5.16H78.80" stroke="#000" stroke-width="1.1" fill="none"/><path d="M155.10,401.80V392.80M244.90,401.80V392.80M334.70,401.80V392.80M424.50,401.80V392.80" stroke="#000" stroke-width="2" fill="none"/><path d="M72.30,345.90H82.30M72.30,286.86H82.30M72.30,227.82H82.30M72.30,168.78H82.30M72.30,109.74H82.30M72.30,50.70H82.30" stroke="#000" stroke-width="2" fill="none"/>
<rect x="72.30" y="3.20" width="441.90" height="398.60" fill="none" stroke="#000" stroke-width="2.2"/>
<g font-family="Liberation Sans, Arial, sans-serif" stroke="#000" stroke-width="0.35"><text x="32.14" y="352.50" font-size="20.5">10</text><text x="55.3" y="342.70" font-size="12">-6</text><text x="32.14" y="293.46" font-size="20.5">10</text><text x="55.3" y="283.66" font-size="12">-5</text><text x="32.14" y="234.42" font-size="20.5">10</text><text x="55.3" y="224.62" font-size="12">-4</text><text x="32.14" y="175.38" font-size="20.5">10</text><text x="55.3" y="165.58" font-size="12">-3</text><text x="32.14" y="116.34" font-size="20.5">10</text><text x="55.3" y="106.54" font-size="12">-2</text><text x="32.14" y="57.30" font-size="20.5">10</text><text x="55.3" y="47.50" font-size="12">-1</text><text x="155.50" y="422" font-size="20.5" text-anchor="middle">0.2</text><text x="245.30" y="422" font-size="20.5" text-anchor="middle">0.4</text><text x="335.10" y="422" font-size="20.5" text-anchor="middle">0.6</text><text x="424.90" y="422" font-size="20.5" text-anchor="middle">0.8</text><text x="514.70" y="422" font-size="20.5" text-anchor="middle">1</text><text transform="translate(271.27,438.61) scale(1.275,1)" font-size="18.98">ε</text><text transform="translate(282.86,446.20) scale(0.751,1)" font-size="14.57" font-weight="bold">v</text><text transform="translate(289.70,441.64) scale(0.767,1)" font-size="26.28">/</text><text transform="translate(296.37,438.61) scale(1.275,1)" font-size="18.98">ε</text><text transform="translate(307.16,446.04) scale(0.808,1)" font-size="16.20" font-weight="bold">d</text><text transform="translate(19.20,238.92) rotate(-90) scale(0.825,1)" font-size="22.49" font-weight="bold">f</text><text transform="translate(18.77,225.74) rotate(-90) scale(0.874,1)" font-size="22.86">(</text><text transform="translate(19.00,217.79) rotate(-90) scale(1.114,1)" font-size="20.81">ε</text><text transform="translate(25.90,206.14) rotate(-90) scale(0.720,1)" font-size="13.44" font-weight="bold">v</text><text transform="translate(19.58,199.40) rotate(-90) scale(0.938,1)" font-size="23.01">/</text><text transform="translate(19.00,192.39) rotate(-90) scale(1.114,1)" font-size="20.81">ε</text><text transform="translate(26.47,181.39) rotate(-90) scale(0.901,1)" font-size="13.21" font-weight="bold">d</text><text transform="translate(18.77,173.02) rotate(-90) scale(0.874,1)" font-size="22.86">)</text><g fill="#e3822a" stroke="#e3822a" stroke-width="0.6"><text x="257.82" y="86.6" font-size="23" font-weight="bold">t</text><text x="265.93" y="94.5" font-size="15">3</text><text x="281.28 289.48 308.55 324.75 340.00 347.22 362.33 377.04 390.71 404.22 418.88" y="87" font-size="22.5" font-weight="bold">(QSS phase)</text></g><g fill="#2a5a18" stroke="#2a5a18"><text x="322.71" y="171.4" font-size="24" font-weight="bold">t</text><text x="331.12" y="178.6" font-size="15.5">2</text></g><g fill="#b00c18" stroke="#b00c18"><text x="141.71" y="173.9" font-size="24" font-weight="bold">t</text><text x="149.46" y="180.5" font-size="15">1</text></g></g>
</svg>
</body></html>
